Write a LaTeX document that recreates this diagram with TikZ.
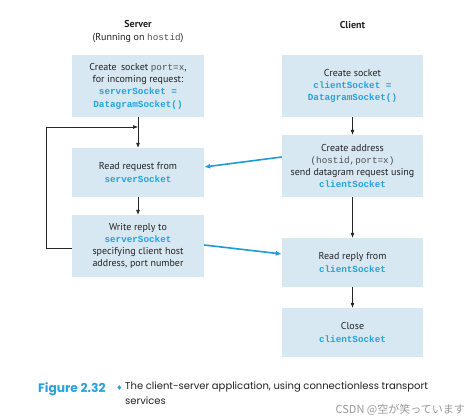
\documentclass[tikz,border=0pt]{standalone}
\usepackage{fontspec}
\setmainfont{PT Sans}
\setmonofont{Liberation Mono}
\newfontfamily\capfont{Poppins}
\newfontfamily\symfont{DejaVu Sans}
\newfontfamily\cjkfont{Noto Sans CJK JP}
\usetikzlibrary{arrows.meta}
\definecolor{boxfill}{HTML}{D7E8F2}
\definecolor{codeblue}{HTML}{27A2DD}
\definecolor{arrblue}{HTML}{1E9BD7}
\definecolor{txt}{HTML}{222222}
\newcommand{\cb}[1]{{\fontsize{9.3}{12}\ttfamily\bfseries\color{codeblue}#1}}
\newcommand{\cg}[1]{{\fontsize{9.3}{12}\ttfamily\color{txt!80}#1}}
\tikzset{
  sbox/.style={fill=boxfill, draw=none, minimum width=132pt, inner sep=0pt, align=center,
    text=txt, font=\fontsize{10}{12.3}\selectfont},
  cbox/.style={sbox, minimum width=141pt},
  arr/.style={-{Latex[length=5pt,width=4pt]}, draw=black!85, line width=0.6pt},
  barr/.style={-{Latex[length=6pt,width=5pt]}, draw=arrblue, line width=1.6pt},
  hdr/.style={align=center, text=txt, font=\fontsize{10}{13}\selectfont}
}
\begin{document}
\begin{tikzpicture}[x=1pt,y=-1pt]
\useasboundingbox (0,0) rectangle (474,419);
\fill[white] (0,0) rectangle (474,419);
\node[hdr] (sh) at (138,31.5) {\textbf{Server}\\(Running on \cg{hostid})};
\node[hdr] (ch) at (352.5,25) {\textbf{Client}};

\node[sbox, minimum height=62pt] (S1) at (138,86) {Create\, socket \cg{port=x},\\for incoming request:\\\cb{serverSocket =}\\\cb{DatagramSocket()}};
\node[sbox, minimum height=49pt] (S2) at (138,172.5) {Read request from\\\cb{serverSocket}};
\node[sbox, minimum height=62pt] (S3) at (138,246) {Write reply to\\\cb{serverSocket}\\specifying client host\\address, port number};

\node[cbox, minimum height=62pt] (C1) at (352.5,86) {Create socket\\\cb{clientSocket =}\\\cb{DatagramSocket()}};
\node[cbox, minimum height=62pt] (C2) at (352.5,166) {Create address\\\cg{(hostid,port=x)}\\send datagram request using\\\cb{clientSocket}};
\node[cbox, minimum height=49pt] (C3) at (352.5,262.5) {Read reply from\\\cb{clientSocket}};
\node[cbox, minimum height=49pt] (C4) at (352.5,332.5) {Close\\\cb{clientSocket}};

\coordinate (J) at (138,127);
\coordinate (L) at (46,127);
\draw[arr] (S1.south) -- (S2.north);
\draw[arr] ([yshift=-2pt]S3.west) -| (L) -- (J);
\draw[arr] (S2.south) -- (S3.north);
\draw[arr] (C1.south) -- (C2.north);
\draw[arr] (C2.south) -- (C3.north);
\draw[arr] (C3.south) -- (C4.north);
\draw[barr] ([yshift=9pt]C2.west) -- ([yshift=5.5pt]S2.east);
\draw[barr] ([yshift=1pt]S3.east) -- ([yshift=8.5pt]C3.west);

\node[anchor=base west, inner sep=0pt, font=\capfont\bfseries\fontsize{12.3}{14}\selectfont, text=codeblue] (fig) at (38,392.5) {Figure 2.32};
\node[anchor=base, inner sep=0pt, font=\symfont\fontsize{7}{10}\selectfont, text=codeblue] (dia) at (119.5,391) {♦};
\node[anchor=north west, inner sep=0pt, align=left, font=\capfont\fontsize{10}{14.5}\selectfont, text=txt] (cap) at (125,382) {The client-server application, using connectionless transport\\services};
\node[anchor=base east, inner sep=0pt, font=\cjkfont\fontsize{11}{12}\selectfont, text=black!40] (wm) at (465,414) {CSDN @空が笑っています};
\end{tikzpicture}
\end{document}
